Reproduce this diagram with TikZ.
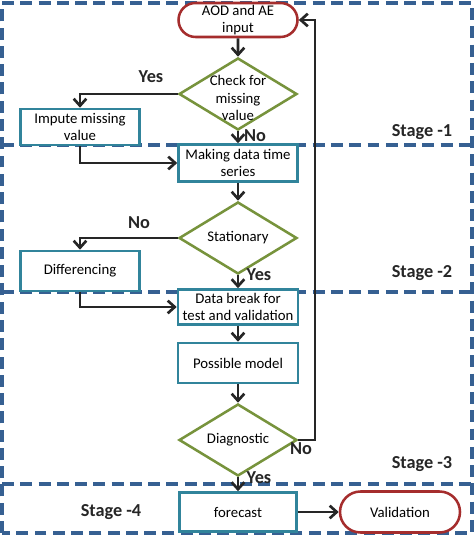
\documentclass[tikz,border=0pt]{standalone}
\usepackage{fontspec}
\setmainfont{Carlito}
\usetikzlibrary{shapes.geometric,shapes.misc,arrows.meta}

\definecolor{boxblue}{RGB}{49,132,155}
\definecolor{decgreen}{RGB}{119,147,60}
\definecolor{termred}{RGB}{165,45,45}
\definecolor{stageblue}{RGB}{54,96,146}

\begin{document}
\begin{tikzpicture}[
    font=\fontsize{10.5}{12.5}\selectfont,
    procbox/.style={draw=boxblue, line width=1.8pt, fill=white, minimum width=2.975cm, minimum height=0.925cm, align=center, inner sep=1pt},
    termbox/.style={rounded rectangle, draw=termred, line width=1.8pt, fill=white, minimum width=2.975cm, minimum height=0.85cm, align=center, inner sep=0pt},
    decision/.style={diamond, draw=decgreen, line width=1.8pt, fill=white, minimum width=2.95cm, minimum height=1.8cm, inner sep=0pt},
    stage/.style={draw=stageblue, line width=2.2pt, dash pattern=on 8.5pt off 4.5pt},
    flow/.style={draw=black!85, line width=1.9pt, -{Straight Barb[length=5pt,width=9pt]}},
    lbl/.style={font=\fontsize{13}{15}\selectfont\bfseries, text=black!85}
  ]
    \useasboundingbox (0,0) rectangle (11.85,13.375);
    % stages
    \draw[stage] (0.05,0.05) rectangle (11.8,13.3);
    \draw[stage] (0.05,9.75) -- (11.8,9.75);
    \draw[stage] (0.05,6.075) -- (11.8,6.075);
    \draw[stage] (0.05,1.275) -- (11.8,1.275);

    \node[termbox] (aod) at (5.95,12.875) {AOD and AE\\input};
    \node[decision, label={[align=center, yshift=-3pt]center:Check for\\missing\\value}] (check) at (5.95,11.025) {};
    \node[procbox, minimum height=0.9cm] (impute) at (2.0,10.2) {Impute missing\\value};
    \node[procbox] (making) at (5.95,9.3) {Making data time\\series};
    \node[decision, label={center:Stationary}] (stat) at (5.95,7.425) {};
    \node[procbox, minimum height=1cm] (diff) at (2.0,6.6) {Differencing};
    \node[procbox, minimum width=3cm, minimum height=0.875cm] (brk) at (5.95,5.7) {Data break for\\test and validation};
    \node[procbox, minimum width=3cm, minimum height=1cm] (model) at (5.95,4.3) {Possible model};
    \node[decision, label={center:Diagnostic}] (diag) at (5.95,2.375) {};
    \node[procbox, minimum width=2.925cm, minimum height=0.975cm] (fcst) at (5.95,0.575) {forecast};
    \node[termbox, minimum width=3cm, minimum height=1.025cm] (valid) at (10.0,0.575) {Validation};
    \coordinate (loop) at (7.875,2.375);

    % connectors
    \draw[flow] (aod) -- (check);
    \draw[flow] (check.west) -| (impute.north);
    \draw[flow] (check.south) -- (making.north);
    \draw[flow] (impute.south) |- (making.west);
    \draw[flow] (making) -- (stat);
    \draw[flow] (stat.west) -| (diff.north);
    \draw[flow] (stat.south) -- (brk.north);
    \draw[flow] (diff.south) |- (brk.west);
    \draw[flow] (brk) -- (model);
    \draw[flow] (model) -- (diag);
    \draw[flow] (diag.east) -- (loop) |- (aod.east);
    \draw[flow] (diag.south) -- (fcst.north);
    \draw[flow] (fcst) -- (valid);

    % labels
    \node[lbl] (yes1) at (3.775,11.45) {Yes};
    \node[lbl] (no1) at (6.375,9.975) {No};
    \node[lbl] (no2) at (3.475,7.8) {No};
    \node[lbl] (yes2) at (6.475,6.5) {Yes};
    \node[lbl] (no3) at (7.525,2.15) {No};
    \node[lbl] (yes3) at (6.475,1.425) {Yes};
    \node[lbl] (st1) at (10.55,10.075) {Stage -1};
    \node[lbl] (st2) at (10.55,6.55) {Stage -2};
    \node[lbl] (st3) at (10.55,1.775) {Stage -3};
    \node[lbl] (st4) at (2.775,0.575) {Stage -4};
  \end{tikzpicture}
\end{document}
